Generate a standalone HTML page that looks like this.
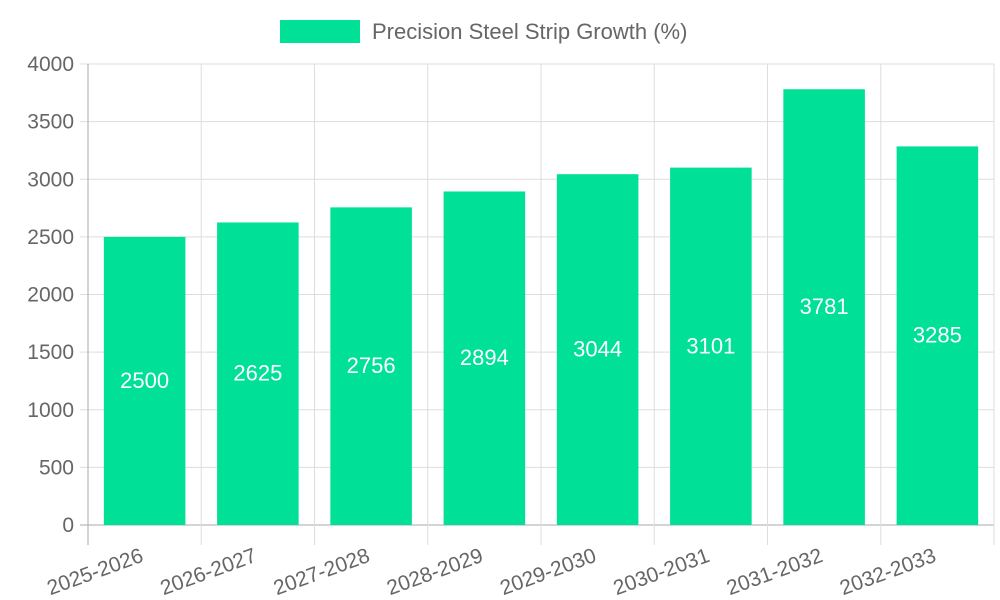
<!DOCTYPE html>
<html><head><meta charset="utf-8"><style>
body{margin:0;background:#fff;}
svg{display:block;font-family:"Liberation Sans",sans-serif;}
</style></head><body>
<svg id="chart" width="1000" height="600">
<g id="grid"></g>
<g id="bars"></g>
<g id="labels"></g>
<g>
<rect x="280" y="20" width="80" height="23" fill="#00e096"/>
<text x="372" y="39" font-size="22" fill="#666">Precision Steel Strip Growth (%)</text>
</g>
</svg>
<script>
const categories=["2025-2026","2026-2027","2027-2028","2028-2029","2029-2030","2030-2031","2031-2032","2032-2033"];
const values=[2500,2625,2756,2894,3044,3101,3781,3285];
const yTicks=[0,500,1000,1500,2000,2500,3000,3500,4000];
const L=88,R=994,T=64,B=525,yMax=4000;
const ns="http://www.w3.org/2000/svg";
const cw=(R-L)/categories.length;
function x(i){return L+cw*i;}
function y(v){return B-(v/yMax)*(B-T);}
function mk(tag,attrs,parent){const e=document.createElementNS(ns,tag);for(const k in attrs)e.setAttribute(k,attrs[k]);parent.appendChild(e);return e;}
const grid=document.getElementById('grid'),bars=document.getElementById('bars'),labels=document.getElementById('labels');
yTicks.forEach(t=>{
 const ln=mk('line',{x1:L-8,x2:R,y1:y(t),y2:y(t),stroke:t===0?'#aaa':'#ddd','stroke-width':1},grid);
 
 
 const tx=mk('text',{x:L-14,y:y(t)+7,'text-anchor':'end','font-size':21,fill:'#666'},grid);
 tx.textContent=t;
 
 
});
for(let i=0;i<=categories.length;i++){
 const ln=mk('line',{x1:x(i),x2:x(i),y1:T,y2:B+20,stroke:i===0?'#aaa':'#ddd','stroke-width':1},grid);
 
 
}
const bw=cw*0.72;
values.forEach((v,i)=>{
 const cx=x(i)+cw/2;
 const r=mk('rect',{x:cx-bw/2,y:y(v),width:bw,height:B-y(v),fill:'#00e096'},bars);
 
 
 const t=mk('text',{x:cx,y:(y(v)+B)/2+7,'text-anchor':'middle','font-size':22,fill:'#fff'},bars);
 t.textContent=v;
 
 
 const lx=mk('text',{x:cx,y:B+36,'text-anchor':'end','font-size':21,fill:'#666',transform:`rotate(-20 ${cx} ${B+36})`},labels);
 lx.textContent=categories[i];
 
 
});
</script>
</body></html>
